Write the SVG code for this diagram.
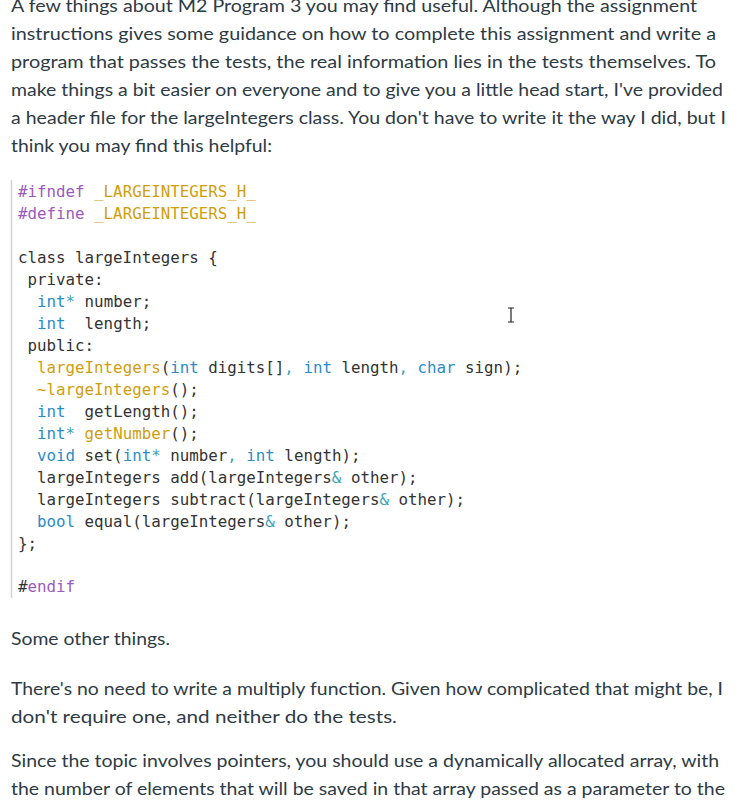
<svg xmlns="http://www.w3.org/2000/svg" width="736" height="800" viewBox="0 0 736 800">
<style>
.p{font-family:Lato,"Liberation Sans",sans-serif;font-size:18px;fill:#2d3b45}
.c{font-family:"DejaVu Sans Mono","Liberation Mono",monospace;font-size:15.8px;fill:#333333;white-space:pre}
.k{fill:#2b8cc9}.y{fill:#cf9e0e}.m{fill:#9b59c0}.t{fill:#3ea3b3}
</style>
<rect width="736" height="800" fill="#ffffff"/>
<g id="intro">
<text class="p" x="11" y="12" textLength="686" lengthAdjust="spacingAndGlyphs">A few things about M2 Program 3 you may find useful.  Although the assignment</text>
<text class="p" x="11" y="40" textLength="705" lengthAdjust="spacingAndGlyphs">instructions gives some guidance on how to complete this assignment and write a</text>
<text class="p" x="11" y="68" textLength="705" lengthAdjust="spacingAndGlyphs">program that passes the tests, the real information lies in the tests themselves. To</text>
<text class="p" x="11" y="96" textLength="712" lengthAdjust="spacingAndGlyphs">make things a bit easier on everyone and to give you a little head start, I've provided</text>
<text class="p" x="11" y="124" textLength="715" lengthAdjust="spacingAndGlyphs">a header file for the largeIntegers class.  You don't have to write it the way I did, but I</text>
<text class="p" x="11" y="152" textLength="261" lengthAdjust="spacingAndGlyphs">think you may find this helpful:</text>
</g>
<g id="code">
<line x1="11.5" y1="180" x2="11.5" y2="598" stroke="#d0d4d8" stroke-width="1.5"/>
<text class="c" x="18" y="197"><tspan class="m">#ifndef</tspan> <tspan class="y">_LARGEINTEGERS_H_</tspan></text>
<text class="c" x="18" y="219"><tspan class="m">#define</tspan> <tspan class="y">_LARGEINTEGERS_H_</tspan></text>
<text class="c" x="18" y="263">class largeIntegers {</text>
<text class="c" x="18" y="285"> private:</text>
<text class="c" x="18" y="307">  <tspan class="k">int</tspan><tspan class="t">*</tspan> number;</text>
<text class="c" x="18" y="329">  <tspan class="k">int</tspan>  length;</text>
<text class="c" x="18" y="351"> public:</text>
<text class="c" x="18" y="373">  <tspan class="y">largeIntegers</tspan>(<tspan class="k">int</tspan> digits[]<tspan class="t">,</tspan> <tspan class="k">int</tspan> length<tspan class="t">,</tspan> <tspan class="k">char</tspan> sign);</text>
<text class="c" x="18" y="395">  <tspan class="y">~largeIntegers</tspan>();</text>
<text class="c" x="18" y="417">  <tspan class="k">int</tspan>  getLength();</text>
<text class="c" x="18" y="439">  <tspan class="k">int</tspan><tspan class="t">*</tspan> <tspan class="y">getNumber</tspan>();</text>
<text class="c" x="18" y="461">  <tspan class="k">void</tspan> set(<tspan class="k">int</tspan><tspan class="t">*</tspan> number<tspan class="t">,</tspan> <tspan class="k">int</tspan> length);</text>
<text class="c" x="18" y="483">  largeIntegers add(largeIntegers<tspan class="t">&amp;</tspan> other);</text>
<text class="c" x="18" y="505">  largeIntegers subtract(largeIntegers<tspan class="t">&amp;</tspan> other);</text>
<text class="c" x="18" y="527">  <tspan class="k">bool</tspan> equal(largeIntegers<tspan class="t">&amp;</tspan> other);</text>
<text class="c" x="18" y="549">};</text>
<text class="c" x="18" y="592"><tspan>#</tspan><tspan class="m">endif</tspan></text>
<path d="M508 308h6M511 308v14M508 322h6" stroke="#222" stroke-width="1.2" fill="none"/>
</g>
<g id="notes">
<text class="p" x="11" y="645" textLength="159" lengthAdjust="spacingAndGlyphs">Some other things.</text>
<text class="p" x="11" y="695" textLength="712" lengthAdjust="spacingAndGlyphs">There's no need to write a multiply function. Given how complicated that might be, I</text>
<text class="p" x="11" y="723" textLength="386" lengthAdjust="spacingAndGlyphs">don't require one, and neither do the tests.</text>
<text class="p" x="11" y="767" textLength="708" lengthAdjust="spacingAndGlyphs">Since the topic involves pointers, you should use a dynamically allocated array, with</text>
<text class="p" x="11" y="795" textLength="714" lengthAdjust="spacingAndGlyphs">the number of elements that will be saved in that array passed as a parameter to the</text>
</g>
</svg>
